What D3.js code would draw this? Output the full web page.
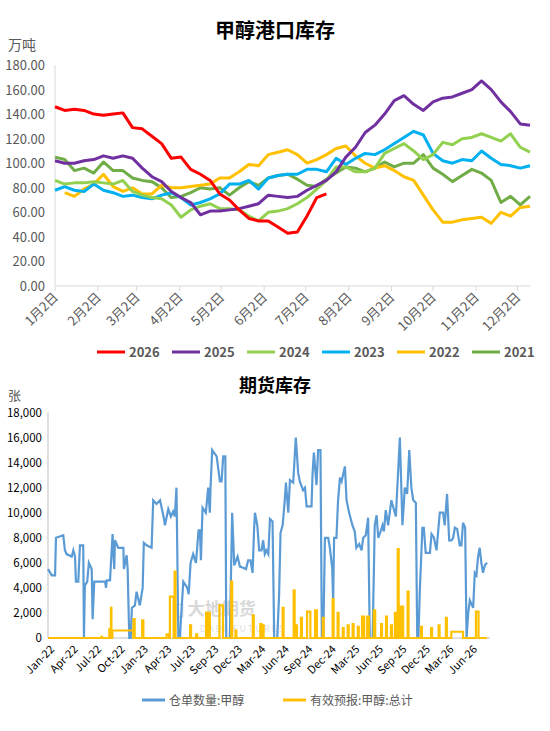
<!DOCTYPE html><html><head><meta charset="utf-8">
<script src="https://cdn.jsdelivr.net/npm/d3@7"></script>
<style>body{margin:0;background:#fff}svg{font-family:"Microsoft YaHei","Noto Sans CJK SC",sans-serif}</style></head><body>
<svg id="c" width="550" height="731"></svg>
<script>
// ---------- top chart data (weekly, week 0 = 1月2日) ----------
const monthTicks = ["1月2日","2月2日","3月2日","4月2日","5月2日","6月2日","7月2日","8月2日","9月2日","10月2日","11月2日","12月2日"];
const monthTickDays = [0,31,59,90,120,151,181,212,243,273,304,334];
const years = ["2026","2025","2024","2023","2022","2021"];
const yearColors = ["#ff0000","#7030a0","#92d050","#00b0f0","#ffc000","#70ad47"];
const s2026 = [146,143,144,143,140,139,140,141,129,128,122,116,104,105,95,91,86,75,70,62,55,53,53,48,43,44,57,72,75];
const s2025 = [102,100,100,102,103,106,104,106,104,96,89,85,77,72,68,58,61,61,62,63,65,67,74,73,72,73,78,82,86,93,105,113,125,131,140,151,155,148,143,150,153,154,157,160,167,160,150,142,132,131];
const s2024 = [86,83,84,84,85,84,83,86,77,74,72,71,66,56,62,65,67,63,63,62,57,53,60,61,63,67,72,79,86,97,97,93,93,96,108,112,116,110,103,107,117,115,120,121,124,121,118,124,113,109];
const s2023 = [78,81,78,77,83,78,76,73,74,72,71,74,76,72,66,68,71,75,83,83,86,79,88,90,91,91,95,95,93,104,99,104,108,107,111,116,121,126,123,108,102,100,103,102,110,104,99,98,96,98];
const s2022 = [null,76,73,79,83,91,81,77,80,75,75,82,80,80,81,82,83,88,88,93,99,98,107,109,111,107,100,103,107,112,114,106,100,96,98,94,89,86,74,62,52,52,54,55,56,51,60,57,64,65];
const s2021 = [105,103,94,96,92,101,94,94,88,86,85,80,72,73,76,80,79,80,74,80,85,82,88,90,91,87,82,81,87,92,97,96,93,96,101,97,100,100,107,96,91,85,90,95,92,86,68,73,66,73];
const topSeries = [s2026,s2025,s2024,s2023,s2022,s2021];
const topYTicks = [0,20,40,60,80,100,120,140,160,180];

// ---------- bottom chart data (t: 10 units per tick label) ----------
const futTicks = ["Jan-22","Apr-22","Jul-22","Oct-22","Jan-23","Apr-23","Jul-23","Sep-23","Dec-23","Mar-24","Jun-24","Sep-24","Dec-24","Mar-25","Jun-25","Sep-25","Dec-25","Mar-26","Jun-26"];
const futYTicks = [0,2000,4000,6000,8000,10000,12000,14000,16000,18000];
const receiptT = [-1.7,-0.1,1.3,1.7,4.8,5.5,6.2,8.4,9.1,9.8,10.2,11.2,11.9,13.3,13.6,14.0,15.0,15.7,16.9,17.3,18.0,22.6,23.0,23.3,24.7,25.8,26.5,26.8,28.2,30.4,30.6,31.8,32.2,32.9,33.5,34.0,35.3,36.0,37.4,38.6,39.1,40.3,42.4,43.1,44.5,46.0,47.7,48.1,49.5,50.6,51.6,52.3,53.0,53.8,54.5,54.9,55.9,57.6,58.2,59.0,60.1,61.3,62.4,63.0,63.4,64.1,65.5,66.5,67.2,67.5,68.2,70.1,71.5,72.2,72.9,73.8,74.2,75.7,76.7,77.6,79.0,80.0,81.4,82.6,83.5,84.5,85.4,86.0,86.4,87.4,88.2,89.2,89.9,90.6,91.3,92.1,92.8,93.9,94.6,95.9,96.7,97.3,98.2,99.1,99.6,100.6,101.3,102.7,103.8,104.8,105.5,106.9,107.7,108.4,110.5,110.9,111.5,112.6,113.3,114.3,114.9,115.5,116.2,117.6,118.3,119.3,119.7,120.1,121.1,121.8,122.6,123.3,124.7,125.4,126.5,127.9,128.9,129.6,130.8,131.8,132.5,133.6,134.6,135.3,136.5,137.4,138.2,138.9,139.9,140.7,141.3,142.1,143.1,144.5,145.2,146.4,148.1,149.2,150.2,151.2,152.1,153.0,153.8,154.9,155.5,156.0,156.6,157.7,158.3,159.1,160.9,161.6,162.6,163.7,165.1,166.5,167.2,168.2,169.1,170.1,170.8,171.5,172.5,173.6,174.3,175.0,175.9,176.5,177.2,177.9,179.3,180.0,180.7,181.4,182.1,182.8,183.5,184.3,185.2];
const receiptV = [5500,5000,5000,8000,8200,7000,6700,6500,7000,6500,4500,4500,7400,7400,0,4200,4500,6000,5500,1500,4500,4500,4000,4600,4600,8300,5500,7800,7200,7200,5500,6600,5500,0,0,2400,2600,3700,2600,4000,7600,7400,7200,11000,10700,11000,9500,9000,10300,9700,10100,9700,12000,0,0,1500,4500,4000,3500,6000,6700,6000,8600,8600,6200,10400,10000,12000,10000,12000,15000,14500,12500,12500,14500,14500,0,0,10000,5800,6500,5700,5600,5500,6200,6200,5200,8500,10000,9000,7000,7000,7800,6700,7000,6700,9500,9300,0,0,3500,8400,9000,11000,12400,10000,12600,12400,16000,13200,12500,11800,12000,10500,10500,13000,14800,12200,15000,15000,0,0,8000,8000,7200,5600,3000,8000,8000,11000,12800,12500,13700,11000,10000,9000,8500,7200,7500,7000,8000,8200,9600,0,0,9000,9800,8000,8500,9000,8500,10200,9000,11000,10500,9700,16000,9000,12000,11500,15000,12000,11000,10800,0,0,3800,8800,8800,6800,6800,8300,8000,7000,10000,10000,9000,11500,7800,7800,8000,8800,8700,7400,7400,9200,8800,0,2000,3000,2400,5200,5000,6500,7200,6000,5200,5800,6000];
// forecast spikes: [tStart, tEnd, value]
const forecastSpikes = [[21.0,21.3,100],[24.4,25.0,700],[25.1,25.3,2400],[25.7,34.6,600],[34.7,35.2,1500],[38.4,38.9,1400],[48.8,49.8,300],[50.2,51.8,3300],[52.2,52.6,5300],[58.8,59.2,1000],[61.4,61.8,300],[65.6,66.2,2000],[66.8,67.2,2000],[71.3,72.8,2600],[76.3,76.7,4500],[78.1,78.5,600],[85.5,85.9,1800],[88.7,89.2,1100],[89.7,90.1,1000],[98.2,98.6,2400],[102.9,103.3,3800],[103.9,104.3,1000],[106.0,106.4,1600],[108.6,110.0,2100],[112.0,112.8,2200],[115.3,115.7,1600],[119.5,119.9,3100],[121.6,122.0,2000],[123.8,124.2,800],[125.9,126.3,1000],[128.0,128.4,1100],[130.2,130.6,900],[132.0,132.9,1700],[134.2,134.9,1700],[137.0,137.6,2200],[140.1,140.5,1100],[142.2,142.6,1700],[144.3,144.7,1000],[146.0,146.6,2000],[147.2,147.6,7100],[147.9,148.3,2500],[148.9,149.5,2500],[151.4,151.8,3700],[157.1,157.5,900],[161.4,161.8,800],[164.6,165.0,1000],[167.7,168.1,1600],[170.0,175.0,500],[180.5,181.6,2100]];

const svg = d3.select("#c");
const grey = "#595959";

// ===== top chart =====
svg.append("text").attr("x",275).attr("y",38).attr("text-anchor","middle").attr("font-size",20).attr("font-weight","bold").text("甲醇港口库存");
svg.append("text").attr("x",8).attr("y",50).attr("font-size",14).attr("fill",grey).text("万吨");
const tx = d3.scaleLinear().domain([0,343]).range([55,530]);
const ty = d3.scaleLinear().domain([0,180]).range([286,65]);
const tg = svg.append("g");
tg.selectAll(".yl").data(topYTicks).join("text").attr("x",45).attr("y",d=>ty(d)+5).attr("text-anchor","end").attr("font-size",13).attr("fill",grey).text(d=>d.toFixed(2));
tg.append("line").attr("x1",55).attr("x2",55).attr("y1",ty(180)).attr("y2",ty(0)).attr("stroke","#d9d9d9");
tg.append("line").attr("x1",55).attr("x2",530).attr("y1",ty(0)).attr("y2",ty(0)).attr("stroke","#d9d9d9");
tg.selectAll(".xt").data(monthTickDays).join("line").attr("x1",d=>tx(d)).attr("x2",d=>tx(d)).attr("y1",ty(0)).attr("y2",ty(0)+5).attr("stroke","#d9d9d9");
tg.selectAll(".xl").data(monthTicks).join("text").attr("font-size",13).attr("fill",grey).attr("text-anchor","end")
  .attr("transform",(d,i)=>`translate(${tx(monthTickDays[i])+4},${ty(0)+12}) rotate(-45)`).text(d=>d);
const tline = d3.line().defined(d=>d!=null).x((d,i)=>tx(i*7)).y(d=>ty(d));
[5,4,3,2,1,0].forEach(k=>{
  tg.append("path").attr("d",tline(topSeries[k])).attr("fill","none").attr("stroke",yearColors[k]).attr("stroke-width",3).attr("stroke-linejoin","round");
});
years.forEach((y,i)=>{
  const x0 = 97 + i*75;
  tg.append("line").attr("x1",x0).attr("x2",x0+28).attr("y1",352).attr("y2",352).attr("stroke",yearColors[i]).attr("stroke-width",3);
  tg.append("text").attr("x",x0+32).attr("y",357).attr("font-size",13).attr("font-weight","bold").attr("fill",grey).text(y);
});

// ===== bottom chart =====
svg.append("text").attr("x",275).attr("y",392).attr("text-anchor","middle").attr("font-size",18).attr("font-weight","bold").text("期货库存");
svg.append("text").attr("x",8).attr("y",400).attr("font-size",13).attr("fill",grey).text("张");
const bx = d3.scaleLinear().domain([-1.7,185.2]).range([48,487]);
const by = d3.scaleLinear().domain([0,18000]).range([638,412.5]);
const bg = svg.append("g");
bg.append("text").attr("x",175).attr("y",615).attr("font-size",17).attr("font-weight","bold").attr("fill","#d8d8d8").text("▯ 大地期货");
bg.append("text").attr("x",200).attr("y",632).attr("font-size",9).attr("fill","#e0e0e0").attr("letter-spacing",2).text("DADI FUTURES");
bg.selectAll(".yl").data(futYTicks).join("text").attr("x",42).attr("y",d=>by(d)+4).attr("text-anchor","end").attr("font-size",11.5).attr("fill","#000").text(d3.format(",")); 
bg.append("line").attr("x1",48).attr("x2",48).attr("y1",by(18000)).attr("y2",by(0)).attr("stroke","#bfbfbf");
bg.append("line").attr("x1",48).attr("x2",490).attr("y1",by(0)).attr("y2",by(0)).attr("stroke","#bfbfbf");
bg.selectAll(".xl").data(futTicks).join("text").attr("font-size",11).attr("fill","#000").attr("text-anchor","end")
  .attr("transform",(d,i)=>`translate(${bx(i*10)+3},${by(0)+12}) rotate(-45)`).text(d=>d);
const recData = receiptT.map((t,i)=>[t,receiptV[i]]);
bg.append("path").attr("d",d3.line().x(d=>bx(d[0])).y(d=>by(d[1]))(recData)).attr("fill","none").attr("stroke","#5b9bd5").attr("stroke-width",2.2);
const fcData = [[-1.7,0]];
forecastSpikes.forEach(s=>{fcData.push([s[0],0],[s[0],s[2]],[s[1],s[2]],[s[1],0]);});
fcData.push([185.2,0]);
bg.append("path").attr("d",d3.line().x(d=>bx(d[0])).y(d=>by(d[1]))(fcData)).attr("fill","none").attr("stroke","#ffc000").attr("stroke-width",2.2);
const leg = [["仓单数量:甲醇","#5b9bd5",142],["有效预报:甲醇:总计","#ffc000",283]];
leg.forEach(l=>{
  bg.append("line").attr("x1",l[2]).attr("x2",l[2]+23).attr("y1",700).attr("y2",700).attr("stroke",l[1]).attr("stroke-width",3);
  bg.append("text").attr("x",l[2]+27).attr("y",705).attr("font-size",12).attr("fill",grey).text(l[0]);
});
</script></body></html>
